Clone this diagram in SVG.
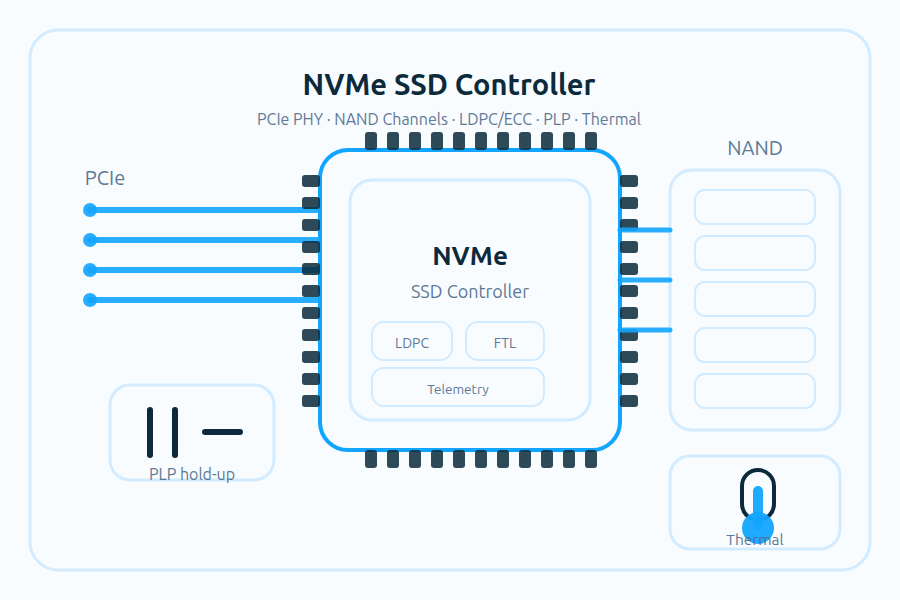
<svg xmlns="http://www.w3.org/2000/svg" width="900" height="600" viewBox="0 0 900 600">
<style>
text{font-family:Ubuntu,"Noto Sans",sans-serif;text-anchor:middle}
.lbl{fill:#4f6b8a;opacity:.9}
.head{fill:#0b2a3c;font-weight:700}
.box{fill:#f8fcff;stroke:#d2ebff;stroke-width:3}
.sm{fill:#f8fcff;stroke:#d2ebff;stroke-width:2}
.pin{fill:#0b2a3c;fill-opacity:.85}
.wire{stroke:#12a5ff;fill:none;stroke-linecap:round}
.dark{stroke:#0b2a3c;fill:none;stroke-linecap:round}
</style>
<rect width="900" height="600" fill="#f8fcff"/>
<g id="panel"><rect class="box" x="30" y="30" width="840" height="540" rx="28"/></g>
<g id="title"><text class="head" x="449" y="95" font-size="29">NVMe SSD Controller</text>
<text class="lbl" x="449" y="125" font-size="16">PCIe PHY · NAND Channels · LDPC/ECC · PLP · Thermal</text></g>
<g id="connectors">
<g class="wire" stroke-width="6" opacity=".9">
<path d="M90 210H320M90 240H320M90 270H320M90 300H320"/>
</g>
<g fill="#12a5ff" fill-opacity=".9"><circle cx="90" cy="210" r="7"/><circle cx="90" cy="240" r="7"/><circle cx="90" cy="270" r="7"/><circle cx="90" cy="300" r="7"/></g>
</g>
<g id="chip">
<rect x="320" y="150" width="300" height="300" rx="28" fill="#f8fcff" stroke="#12a5ff" stroke-width="4"/>
<rect class="box" x="350" y="180" width="240" height="240" rx="22"/>
<text class="head" x="470" y="265" font-size="26">NVMe</text>
<text class="lbl" x="470" y="298" font-size="18">SSD Controller</text>
</g>
<g id="pins-top"><rect class="pin" x="365" y="132" width="12" height="18" rx="3"/><rect class="pin" x="387" y="132" width="12" height="18" rx="3"/><rect class="pin" x="409" y="132" width="12" height="18" rx="3"/><rect class="pin" x="431" y="132" width="12" height="18" rx="3"/><rect class="pin" x="453" y="132" width="12" height="18" rx="3"/><rect class="pin" x="475" y="132" width="12" height="18" rx="3"/><rect class="pin" x="497" y="132" width="12" height="18" rx="3"/><rect class="pin" x="519" y="132" width="12" height="18" rx="3"/><rect class="pin" x="541" y="132" width="12" height="18" rx="3"/><rect class="pin" x="563" y="132" width="12" height="18" rx="3"/><rect class="pin" x="585" y="132" width="12" height="18" rx="3"/></g>
<g id="pins-bottom"><rect class="pin" x="365" y="450" width="12" height="18" rx="3"/><rect class="pin" x="387" y="450" width="12" height="18" rx="3"/><rect class="pin" x="409" y="450" width="12" height="18" rx="3"/><rect class="pin" x="431" y="450" width="12" height="18" rx="3"/><rect class="pin" x="453" y="450" width="12" height="18" rx="3"/><rect class="pin" x="475" y="450" width="12" height="18" rx="3"/><rect class="pin" x="497" y="450" width="12" height="18" rx="3"/><rect class="pin" x="519" y="450" width="12" height="18" rx="3"/><rect class="pin" x="541" y="450" width="12" height="18" rx="3"/><rect class="pin" x="563" y="450" width="12" height="18" rx="3"/><rect class="pin" x="585" y="450" width="12" height="18" rx="3"/></g>
<g id="pins-left"><rect class="pin" x="302" y="175" width="18" height="12" rx="3"/><rect class="pin" x="302" y="197" width="18" height="12" rx="3"/><rect class="pin" x="302" y="219" width="18" height="12" rx="3"/><rect class="pin" x="302" y="241" width="18" height="12" rx="3"/><rect class="pin" x="302" y="263" width="18" height="12" rx="3"/><rect class="pin" x="302" y="285" width="18" height="12" rx="3"/><rect class="pin" x="302" y="307" width="18" height="12" rx="3"/><rect class="pin" x="302" y="329" width="18" height="12" rx="3"/><rect class="pin" x="302" y="351" width="18" height="12" rx="3"/><rect class="pin" x="302" y="373" width="18" height="12" rx="3"/><rect class="pin" x="302" y="395" width="18" height="12" rx="3"/></g>
<g id="pins-right"><rect class="pin" x="620" y="175" width="18" height="12" rx="3"/><rect class="pin" x="620" y="197" width="18" height="12" rx="3"/><rect class="pin" x="620" y="219" width="18" height="12" rx="3"/><rect class="pin" x="620" y="241" width="18" height="12" rx="3"/><rect class="pin" x="620" y="263" width="18" height="12" rx="3"/><rect class="pin" x="620" y="285" width="18" height="12" rx="3"/><rect class="pin" x="620" y="307" width="18" height="12" rx="3"/><rect class="pin" x="620" y="329" width="18" height="12" rx="3"/><rect class="pin" x="620" y="351" width="18" height="12" rx="3"/><rect class="pin" x="620" y="373" width="18" height="12" rx="3"/><rect class="pin" x="620" y="395" width="18" height="12" rx="3"/></g>
<g id="ldpc"><rect class="sm" x="372" y="322" width="80" height="38" rx="12"/><text class="lbl" x="412" y="348" font-size="14">LDPC</text></g>
<g id="ftl"><rect class="sm" x="466" y="322" width="78" height="38" rx="12"/><text class="lbl" x="505" y="348" font-size="14">FTL</text></g>
<g id="telemetry"><rect class="sm" x="372" y="368" width="172" height="38" rx="12"/><text class="lbl" x="458" y="394" font-size="13.500">Telemetry</text></g>
<g id="pcie-label"><text class="lbl" x="105" y="185" font-size="20">PCIe</text></g>
<g id="nand"><text class="lbl" x="755" y="155" font-size="20">NAND</text>
<rect class="box" x="670" y="170" width="170" height="260" rx="22"/>
<rect class="sm" x="695" y="190" width="120" height="34" rx="10"/><rect class="sm" x="695" y="236" width="120" height="34" rx="10"/><rect class="sm" x="695" y="282" width="120" height="34" rx="10"/><rect class="sm" x="695" y="328" width="120" height="34" rx="10"/><rect class="sm" x="695" y="374" width="120" height="34" rx="10"/></g>
<g id="nand-wires" class="wire" stroke-width="5" opacity=".9"><path d="M620 230H670M620 280H670M620 330H670"/></g>
<g id="plp"><rect class="box" x="110" y="385" width="164" height="95" rx="20"/>
<path class="dark" stroke-width="6" d="M150 410V455M175 410V455M205 432H240"/>
<text class="lbl" x="192" y="480" font-size="16">PLP hold-up</text></g>
<g id="thermal"><rect class="box" x="670" y="456" width="170" height="93" rx="20"/>
<rect x="742" y="470" width="32" height="50" rx="16" fill="none" stroke="#0b2a3c" stroke-width="4"/>
<path d="M758 491V525" stroke="#12a5ff" stroke-opacity=".95" stroke-width="10" stroke-linecap="round" fill="none"/>
<circle cx="758" cy="528" r="16" fill="#12a5ff" fill-opacity=".95"/>
<text class="lbl" x="755" y="545" font-size="15.500">Thermal</text></g>
</svg>
